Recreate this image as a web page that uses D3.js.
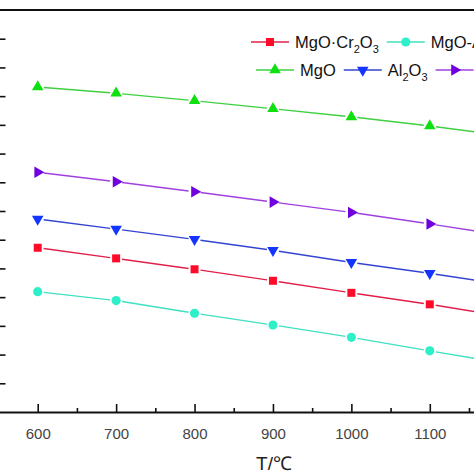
<!DOCTYPE html>
<html>
<head>
<meta charset="utf-8">
<script src="https://cdn.jsdelivr.net/npm/d3@7"></script>
<style>
  html, body { margin: 0; padding: 0; background: #fff; }
  svg { display: block; }
</style>
</head>
<body>
<svg id="chart" width="474" height="474"></svg>
<script>
// ---- data ----
const temperatures = [600, 700, 800, 900, 1000, 1100, 1200];
const seriesNames = ["MgO·Cr2O3", "MgO-Al2O3", "MgO", "Al2O3", "Cr2O3"];
const mgoCr2o3 = [5.72, 5.35, 4.97, 4.57, 4.15, 3.75, 3.31];
const mgoAl2o3 = [4.19, 3.88, 3.44, 3.03, 2.60, 2.13, 1.67];
const mgo      = [11.32, 11.10, 10.84, 10.56, 10.28, 9.96, 9.61];
const al2o3    = [6.72, 6.37, 6.01, 5.63, 5.21, 4.83, 4.42];
const cr2o3    = [8.35, 8.02, 7.67, 7.31, 6.95, 6.55, 6.13];
const xMajorTicks = [600, 700, 800, 900, 1000, 1100, 1200];
const xLabelTicks = [600, 700, 800, 900, 1000, 1100];
const xMinorTicks = [550, 650, 750, 850, 950, 1050, 1150, 1250];
const yTicks = [1, 2, 3, 4, 5, 6, 7, 8, 9, 10, 11, 12, 13];
const xTitle = "T/℃";

// ---- styles ----
const styles = [
  { line: "#e0204a", fill: "#ff0a28", symbol: d3.symbolSquare, size: 64, rot: 0 },
  { line: "#40e0c0", fill: "#2ef0c8", symbol: d3.symbolCircle, size: 66, rot: 0 },
  { line: "#3fd03f", fill: "#0fe00f", symbol: d3.symbolTriangle, size: 58, rot: 0 },
  { line: "#3444d0", fill: "#1434ff", symbol: d3.symbolTriangle, size: 58, rot: 180 },
  { line: "#a040e0", fill: "#7000e0", symbol: d3.symbolTriangle, size: 58, rot: 90 }
];
const seriesValues = [mgoCr2o3, mgoAl2o3, mgo, al2o3, cr2o3];

const svg = d3.select("#chart");
const font = "'Liberation Sans', Arial, sans-serif";

const x = d3.scaleLinear().domain([550, 1250]).range([-1.5, 547.4]);
const y = d3.scaleLinear().domain([0, 14]).range([412, 10]);

// frame
svg.append("line").attr("x1", x(550)).attr("x2", x(1250)).attr("y1", y(14)).attr("y2", y(14))
  .attr("stroke", "#111").attr("stroke-width", 2);
svg.append("line").attr("x1", x(550)).attr("x2", x(550)).attr("y1", y(0)).attr("y2", y(14))
  .attr("stroke", "#111").attr("stroke-width", 2);

// x axis (ticks inward)
const gx = svg.append("g").attr("transform", `translate(0,${y(0)})`)
  .call(d3.axisBottom(x).tickValues(xMajorTicks).tickSizeInner(-8).tickSizeOuter(0).tickFormat(""));
gx.select(".domain").attr("stroke", "#111").attr("stroke-width", 2);
gx.selectAll(".tick line").attr("stroke", "#111").attr("stroke-width", 1.6);
gx.selectAll(".tick text").remove();
const gxl = svg.append("g").attr("transform", `translate(0,${y(0)})`)
  .call(d3.axisBottom(x).tickValues(xLabelTicks).tickSize(0).tickPadding(16).tickFormat(d3.format("d")));
gxl.select(".domain").remove();
gxl.selectAll(".tick line").remove();
gxl.selectAll(".tick text").attr("font-family", font).attr("font-size", 15).attr("fill", "#444");
const gxm = svg.append("g").attr("transform", `translate(0,${y(0)})`)
  .call(d3.axisBottom(x).tickValues(xMinorTicks).tickSizeInner(-4).tickSizeOuter(0).tickFormat(""));
gxm.select(".domain").remove();
gxm.selectAll(".tick text").remove();
gxm.selectAll(".tick line").attr("stroke", "#111").attr("stroke-width", 1.6);

// y axis ticks (inward, labels lie outside the view)
const gy = svg.append("g").attr("transform", `translate(${x(550)},0)`)
  .call(d3.axisLeft(y).tickValues(yTicks).tickSizeInner(-7).tickSizeOuter(0).tickFormat(""));
gy.select(".domain").remove();
gy.selectAll(".tick text").remove();
gy.selectAll(".tick line").attr("stroke", "#111").attr("stroke-width", 1.6);

// x title
svg.append("text").attr("x", 274).attr("y", 470).attr("text-anchor", "middle")
  .attr("font-family", font).attr("font-size", 19).attr("fill", "#222").text(xTitle);

// series
const gap = 6;
seriesValues.forEach((vals, si) => {
  const st = styles[si];
  const g = svg.append("g");
  const pts = temperatures.map((t, i) => [x(t), y(vals[i])]);
  for (let i = 0; i < pts.length - 1; i++) {
    const [x1, y1] = pts[i], [x2, y2] = pts[i + 1];
    const dx = x2 - x1, dy = y2 - y1, L = Math.hypot(dx, dy);
    const ux = dx / L, uy = dy / L;
    g.append("line")
      .attr("x1", x1 + ux * gap).attr("y1", y1 + uy * gap)
      .attr("x2", x2 - ux * gap).attr("y2", y2 - uy * gap)
      .attr("stroke", st.line).attr("stroke-width", 1.4);
  }
  g.selectAll("path.m").data(pts).join("path").attr("class", "m")
    .attr("d", d3.symbol().type(st.symbol).size(st.size))
    .attr("transform", d => `translate(${d[0]},${d[1]}) rotate(${st.rot})`)
    .attr("fill", st.fill);
});

// legend
function addLabel(sel, name) {
  // digits are drawn as subscripts
  const parts = name.match(/[A-Za-z·\-]+|\d+/g);
  let shifted = false;
  parts.forEach(p => {
    if (/^\d+$/.test(p)) {
      sel.append("tspan").attr("font-size", 11).attr("dy", shifted ? 0 : 5).text(p);
      shifted = true;
    } else {
      sel.append("tspan").attr("dy", shifted ? -5 : 0).text(p);
      shifted = false;
    }
  });
}
const legendRows = [
  { y: 42, x0: 251, items: [0, 1] },
  { y: 70, x0: 256, items: [2, 3, 4] }
];
legendRows.forEach(row => {
  let cx = row.x0;
  row.items.forEach(si => {
    const st = styles[si];
    const g = svg.append("g");
    g.append("line").attr("x1", cx).attr("x2", cx + 38).attr("y1", row.y).attr("y2", row.y)
      .attr("stroke", st.line).attr("stroke-width", 1.4);
    g.append("path").attr("d", d3.symbol().type(st.symbol).size(st.size)())
      .attr("transform", `translate(${cx + 19},${row.y}) rotate(${st.rot})`).attr("fill", st.fill);
    const t = g.append("text").attr("x", cx + 44).attr("y", row.y + 6)
      .attr("font-family", font).attr("font-size", 16.5).attr("fill", "#111");
    addLabel(t, seriesNames[si]);
    const w = t.node().getComputedTextLength();
    cx = cx + 44 + w + 8;
  });
});
</script>
</body>
</html>
